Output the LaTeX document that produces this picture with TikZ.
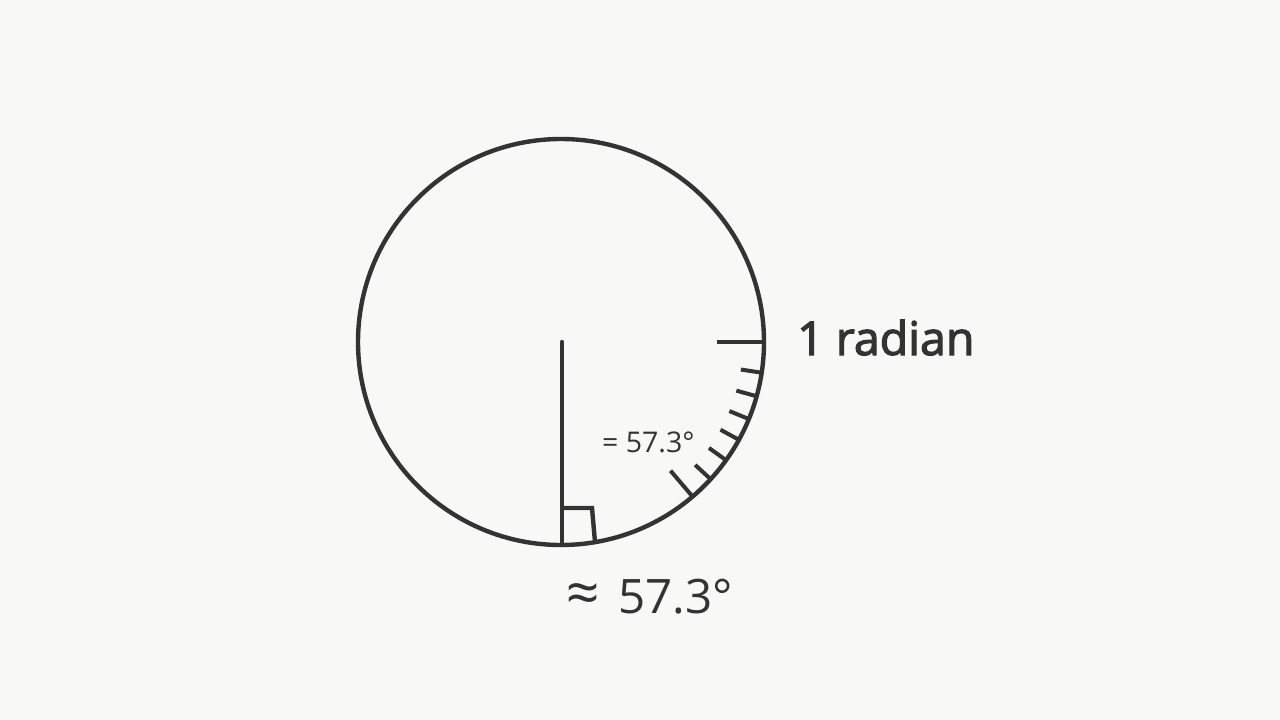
\documentclass[tikz,border=0pt]{standalone}
\usetikzlibrary{calc}
\usepackage{fontspec}
\setmainfont{Open Sans}
\newfontfamily\radfont{Open Sans}[FakeBold=2.5]
\definecolor{bgc}{HTML}{F8F8F6}
\definecolor{ink}{HTML}{333333}
\tikzset{
  geo/.style={draw=ink, line width=4.4pt},
  tick/.style={draw=ink, line width=4pt},
  lbl/.style={text=ink, inner sep=0pt, anchor=base west},
}
\begin{document}
\begin{tikzpicture}[x=1pt,y=-1pt]
\fill[bgc] (0,0) rectangle (1280,720);
\useasboundingbox (0,0) rectangle (1280,720);
\coordinate (O) at (561,342);
\draw[geo] (O) circle (203);
\draw[geo, line cap=round] (562,342) -- (562,545);
\draw[geo, line join=miter] (562,508) -- (592,508) -- (595,542);
% ticks
\draw[tick] ($(O)+(0:156)$) -- ($(O)+(0:203)$);
\foreach \a in {8.7,15.5,22.3,28.8,35.6,42.5}{
  \draw[tick] ($(O)+(\a:182)$) -- ($(O)+(\a:202)$);
}
\draw[tick] ($(O)+(49.6:169)$) -- ($(O)+(49.6:202)$);
\node[lbl, font=\radfont\fontsize{46.5}{50}\selectfont] (rad) at (797,355) {1 radian};
\node[lbl, font=\fontsize{47.5}{50}\selectfont] (deg) at (566,613) {{\fontsize{58}{60}\selectfont ≈}\hspace{19pt}57.3°};
\node[lbl, font=\fontsize{28.5}{30}\selectfont] (eq) at (602,452) {= 57.3°};
\end{tikzpicture}
\end{document}
